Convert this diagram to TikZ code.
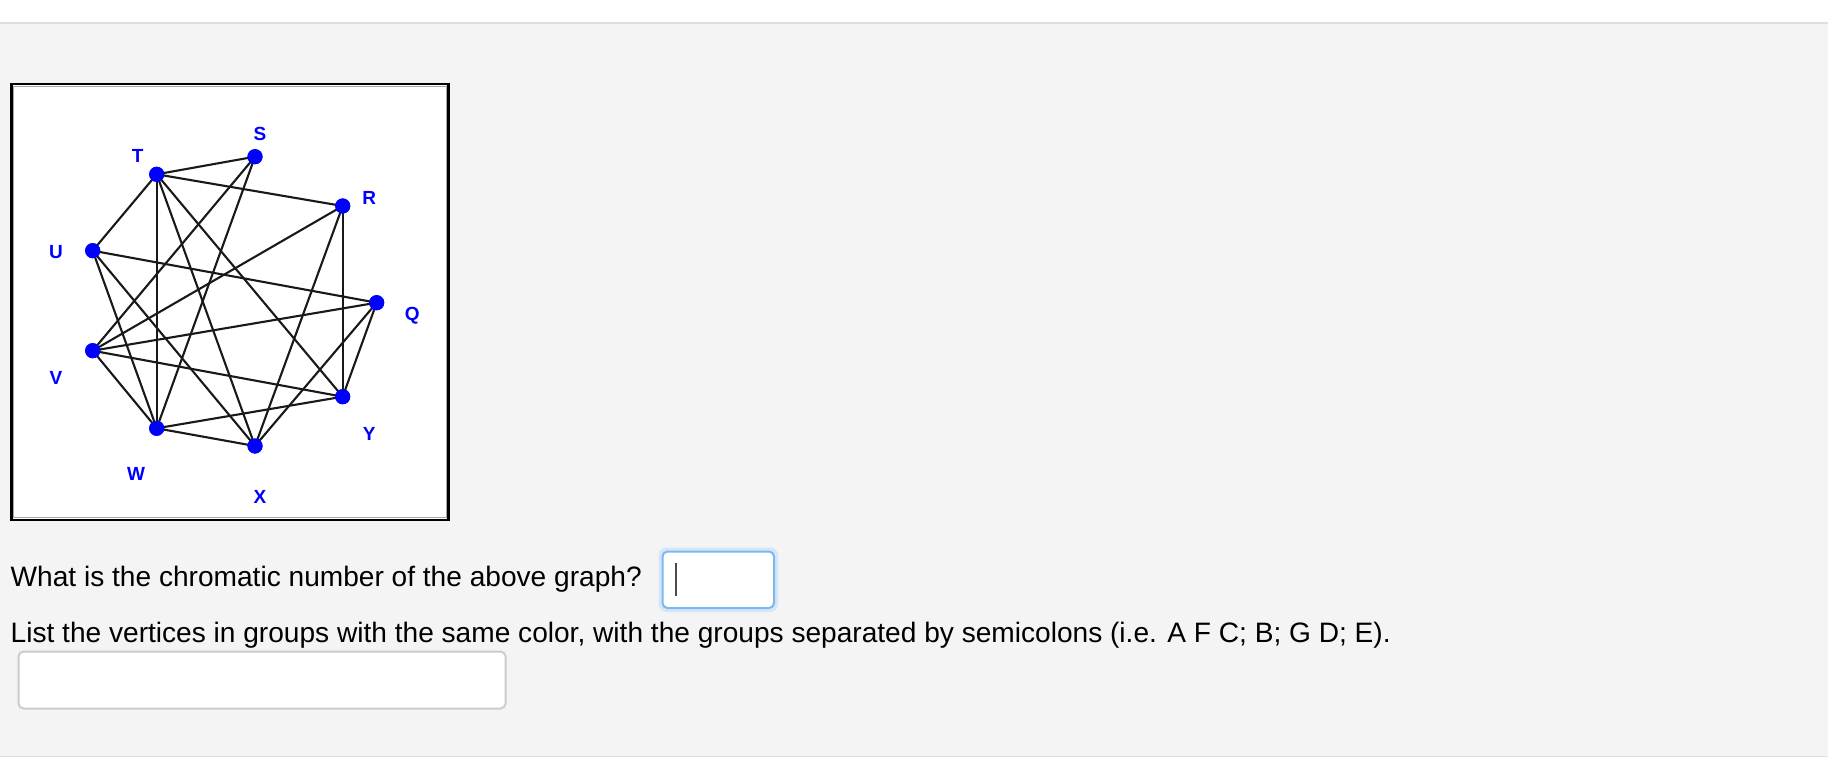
\documentclass[tikz,border=0pt]{standalone}
\usepackage{fontspec}
\setmainfont{Liberation Sans}
\definecolor{pagebg}{HTML}{F4F4F4}
\definecolor{bandline}{HTML}{DEDEDE}
\definecolor{focusblue}{HTML}{7AB8EE}
\definecolor{glowblue}{HTML}{D4E6F8}
\definecolor{boxgray}{HTML}{CCCCCC}
\definecolor{vblue}{HTML}{0000FF}
\tikzset{
  vtx/.style={circle,fill=vblue,inner sep=0pt,minimum size=15pt},
  vlab/.style={text=vblue,font=\fontsize{19}{19}\selectfont\bfseries,inner sep=0pt},
  edge/.style={draw=black!90,line width=2.1pt},
  qtext/.style={font=\fontsize{28.1}{32}\selectfont,anchor=base west,inner sep=0pt,text=black}
}
\begin{document}
\begin{tikzpicture}[x=1pt,y=-1pt]
\useasboundingbox (0,0) rectangle (1828,759);
% page background
\fill[white] (0,0) rectangle (1828,759);
\fill[pagebg] (0,22) rectangle (1828,756);
\fill[bandline] (0,22) rectangle (1828,24);
\fill[black!12] (0,755.5) rectangle (1828,757);
% graph frame
\draw[fill=white,line width=2.2pt] (11.5,84) rectangle (448.5,520);
\draw[black!35,line width=0.8pt] (13.8,86.3) rectangle (446.2,517.7);
% vertices
\node[vtx] (S) at (255,156.7) {};
\node[vtx] (T) at (156.7,174.3) {};
\node[vtx] (R) at (342.7,206) {};
\node[vtx] (U) at (92.7,250.7) {};
\node[vtx] (Q) at (376.7,302.7) {};
\node[vtx] (V) at (92.7,350.7) {};
\node[vtx] (Y) at (342.7,396.7) {};
\node[vtx] (W) at (156.7,428.3) {};
\node[vtx] (X) at (255,446) {};
% edges
\draw[edge] (T.center) -- (S.center);
\draw[edge] (T.center) -- (R.center);
\draw[edge] (T.center) -- (U.center);
\draw[edge] (T.center) -- (W.center);
\draw[edge] (T.center) -- (X.center);
\draw[edge] (T.center) -- (Y.center);
\draw[edge] (S.center) -- (V.center);
\draw[edge] (S.center) -- (W.center);
\draw[edge] (R.center) -- (V.center);
\draw[edge] (R.center) -- (X.center);
\draw[edge] (R.center) -- (Y.center);
\draw[edge] (U.center) -- (Q.center);
\draw[edge] (U.center) -- (W.center);
\draw[edge] (U.center) -- (X.center);
\draw[edge] (Q.center) -- (V.center);
\draw[edge] (Q.center) -- (X.center);
\draw[edge] (Q.center) -- (Y.center);
\draw[edge] (V.center) -- (Y.center);
\draw[edge] (V.center) -- (W.center);
\draw[edge] (W.center) -- (Y.center);
\draw[edge] (W.center) -- (X.center);
% redraw vertex dots on top
\foreach \v in {S,T,R,U,Q,V,Y,W,X} \fill[vblue] (\v.center) circle (7.6pt);
% labels
\node[vlab] (lS) at (260,134.3) {S};
\node[vlab] (lT) at (137.7,156) {T};
\node[vlab] (lR) at (369.3,198.3) {R};
\node[vlab] (lU) at (56,251.7) {U};
\node[vlab] (lQ) at (412.3,316) {Q};
\node[vlab] (lV) at (56,377.7) {V};
\node[vlab] (lY) at (369.3,434) {Y};
\node[vlab] (lW) at (136,474) {W};
\node[vlab] (lX) at (260,496.7) {X};
% question 1
\node[qtext] (q1) at (10.5,586) {What is the chromatic number of the above graph?};
\fill[glowblue,rounded corners=8pt] (658.5,547.5) rectangle (778,612);
\draw[draw=focusblue,fill=white,line width=2pt,rounded corners=5pt] (662.5,551.5) rectangle (774,608);
\draw[black!70,line width=1.6pt] (676,563) -- (676,596);
% question 2
\node[qtext] (q2) at (10.5,642) {List the vertices in groups with the same color, with the groups separated by semicolons (i.e. A F C; B; G D; E).};
\draw[draw=boxgray,fill=white,line width=2pt,rounded corners=5pt] (18.5,651.5) rectangle (505.5,708.5);
\end{tikzpicture}
\end{document}
